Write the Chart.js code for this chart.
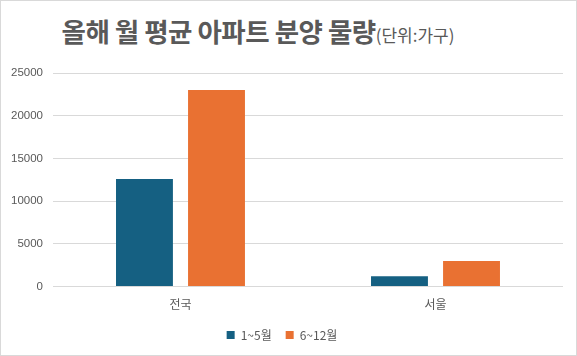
<!DOCTYPE html>
<html><head><meta charset="utf-8">
<script src="https://cdn.jsdelivr.net/npm/chart.js@4/dist/chart.umd.min.js"></script>
<style>
html,body{margin:0;padding:0;background:#fff;}
#wrap{position:relative;width:575px;height:354px;border:1px solid #d9d9d9;background:#fff;}
#title{position:absolute;left:-3px;top:10px;width:520px;text-align:center;white-space:nowrap;color:#595959;font-family:"Noto Sans CJK KR","Noto Sans",sans-serif;}
#title .main{font-size:26.5px;font-weight:bold;letter-spacing:-0.5px;}
#title .sub{font-size:17px;font-weight:normal;}
canvas{position:absolute;left:0;top:0;}
</style></head>
<body>
<div id="wrap">
<div id="title"><span class="main">올해 월 평균 아파트 분양 물량</span><span class="sub">(단위:가구)</span></div>
<canvas id="c" width="575" height="354"></canvas>
</div>
<script>
const categories = ["전국", "서울"];
const seriesNames = ["1~5월", "6~12월"];
const janMay = [12600, 1200];   // 1~5월: 전국, 서울
const junDec = [23000, 3000];   // 6~12월: 전국, 서울
const yTicks = [0, 5000, 10000, 15000, 20000, 25000];

const colors = ["#156082", "#E97132"];

new Chart(document.getElementById('c'), {
  type: 'bar',
  data: {
    labels: categories,
    datasets: [
      {label: seriesNames[0], data: janMay, backgroundColor: colors[0], barPercentage: 0.79, categoryPercentage: 0.565},
      {label: seriesNames[1], data: junDec, backgroundColor: colors[1], barPercentage: 0.79, categoryPercentage: 0.565}
    ]
  },
  options: {
    responsive: false,
    animation: false,
    layout: {padding: {top: 72, left: 0, right: 13, bottom: 4}},
    plugins: {
      title: {display: false},
      tooltip: {enabled: false},
      legend: {
        position: 'bottom',
        labels: {boxWidth: 8, boxHeight: 8, color: '#595959', font: {size: 12, family: '"Noto Sans CJK KR", sans-serif'}, padding: 14}
      }
    },
    scales: {
      x: {
        grid: {display: false},
        border: {display: false},
        ticks: {color: '#595959', font: {size: 12, family: '"Noto Sans CJK KR", sans-serif'}, padding: 3}
      },
      y: {
        min: 0, max: 25000,
        afterBuildTicks: (s) => { s.ticks = yTicks.map(v => ({value: v})); },
        grid: {color: '#d9d9d9', drawTicks: false},
        border: {display: false},
        ticks: {color: '#595959', font: {size: 11.5, family: '"Liberation Sans", Arial, sans-serif'}, padding: 10,
          callback: (v) => String(v)}
      }
    }
  }
});
</script>
</body></html>
